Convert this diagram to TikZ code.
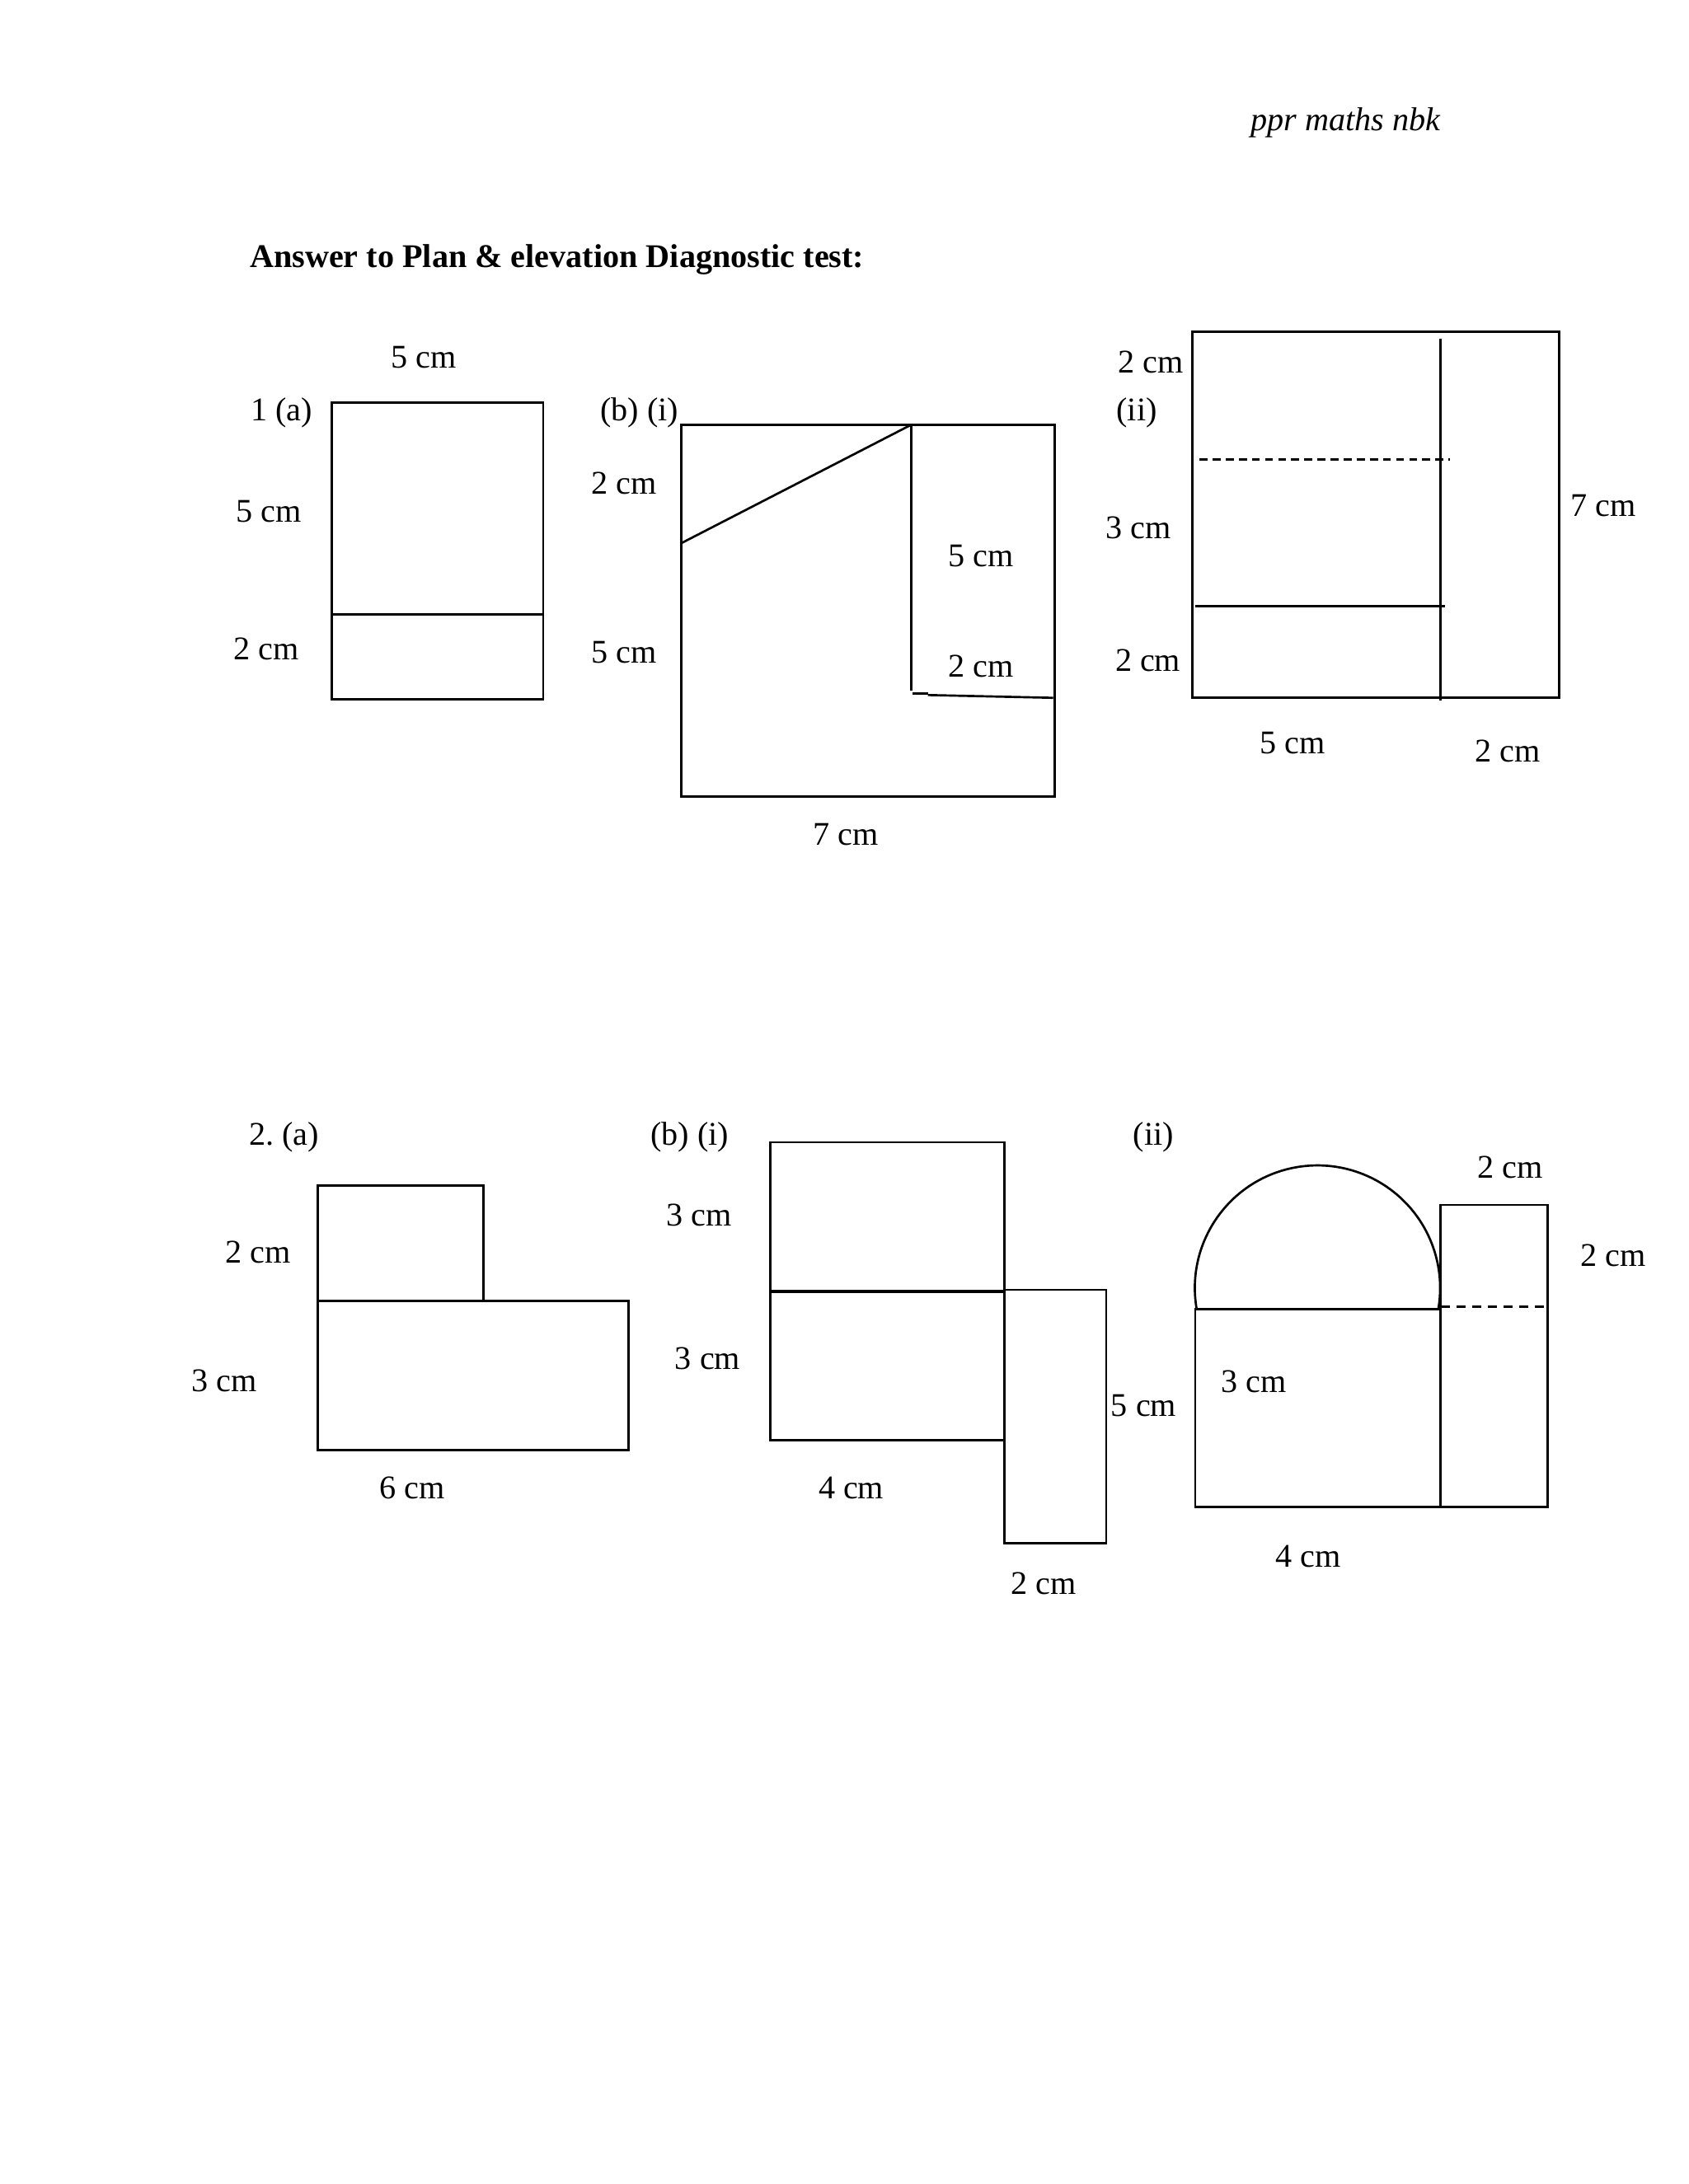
\documentclass[tikz,border=0pt]{standalone}
\usepackage{fontspec}
\setmainfont{Liberation Serif}
\usepackage{tikz}
\usetikzlibrary{positioning}
\tikzset{
    outline/.style={line width=0.8pt},
    hidden/.style={line width=0.75pt, dash pattern=on 2.9pt off 1.85pt},
    dim/.style={inner sep=0pt, xshift=0.5pt, text height=8pt, text depth=0pt, font=\fontsize{12}{14}\selectfont}
}

\begin{document}
\begin{tikzpicture}[x=0.50495pt, y=-0.50495pt]
    \useasboundingbox (0, 0) rectangle (1212, 1568);
    \node [dim, font=\fontsize{12}{14}\itshape] (header) at (965, 86) {ppr maths nbk};
    \node [dim, anchor=west, font=\fontsize{12}{14}\bfseries] (title) at (178, 184) {Answer to Plan \& elevation Diagnostic test:};

    \draw [outline] (238, 289) rectangle (390, 502); % Question 1 (a)
    \draw [outline] (238, 441) -- (390, 441);
    \node [dim] (topa) at (303, 256) {5 cm};
    \node [dim] (parta) at (201, 294) {1 (a)};
    \node [dim] (uppera) at (192, 367) {5 cm};
    \node [dim] (lowera) at (190, 466) {2 cm};

    \draw [outline] (489, 305) rectangle (757, 572); % Question 1 (b)(i)
    \draw [outline] (489, 390) -- (654, 305);
    \draw [outline] (654, 305) -- (654, 496);
    \draw [outline] (655, 498) -- (666, 498);
    \draw [outline] (666, 499) -- (756, 501);
    \node [dim] (partbi) at (458, 294) {(b) (i)};
    \node [dim] (slopebi) at (447, 347) {2 cm};
    \node [dim] (leftbi) at (447, 468) {5 cm};
    \node [dim] (innerbi) at (703, 399) {5 cm};
    \node [dim] (notchbi) at (703, 478) {2 cm};
    \node [dim] (basebi) at (606, 599) {7 cm};

    \draw [outline] (856, 238) rectangle (1119, 501); % Question 1 (b)(ii)
    \draw [outline] (1034, 243) -- (1034, 503);
    \draw [hidden] (861, 330) -- (1041, 330);
    \draw [outline] (858, 435) -- (1037, 435);
    \node [dim] (topbii) at (825, 260) {2 cm};
    \node [dim] (partbii) at (815, 294) {(ii)};
    \node [dim] (midbii) at (816, 379) {3 cm};
    \node [dim] (lowbii) at (823, 474) {2 cm};
    \node [dim] (sidebii) at (1150, 363) {7 cm};
    \node [dim] (basebii) at (927, 533) {5 cm};
    \node [dim] (endbii) at (1081, 539) {2 cm};

    \draw [outline] (228, 851) rectangle (347, 934); % Question 2 (a)
    \draw [outline] (228, 934) rectangle (451, 1041);
    \node [dim] (parttwoa) at (203, 814) {2.\ (a)};
    \node [dim] (uppertwoa) at (184, 899) {2 cm};
    \node [dim] (lowertwoa) at (160, 991) {3 cm};
    \node [dim] (basetwoa) at (295, 1068) {6 cm};

    \draw [outline] (553, 820) rectangle (721, 1034); % Question 2 (b)(i)
    \draw [line width=1.2pt] (553, 927) -- (721, 927);
    \draw [outline] (721, 926) rectangle (794, 1108);
    \node [dim] (parttwobi) at (494, 814) {(b) (i)};
    \node [dim] (uppertwobi) at (501, 872) {3 cm};
    \node [dim] (lowertwobi) at (507, 975) {3 cm};
    \node [dim] (basetwobi) at (610, 1068) {4 cm};
    \node [dim] (endtwobi) at (748, 1137) {2 cm};
    \node [dim] (sidetwobi) at (820, 1009) {5 cm};

    \draw [outline] (858, 940) rectangle (1034, 1082); % Question 2 (b)(ii)
    \draw [outline] (859, 940) arc (190:-10:44.45pt);
    \draw [outline] (1034, 865) rectangle (1111, 1082);
    \draw [hidden, dash pattern=on 3.4pt off 2.3pt] (1034, 938) -- (1111, 938);
    \node [dim] (parttwobii) at (827, 814) {(ii)};
    \node [dim] (toptwobii) at (1083, 838) {2 cm};
    \node [dim] (sidetwobii) at (1157, 901) {2 cm};
    \node [dim] (innertwobii) at (899, 992) {3 cm};
    \node [dim] (basetwobii) at (938, 1117) {4 cm};
\end{tikzpicture}
\end{document}
